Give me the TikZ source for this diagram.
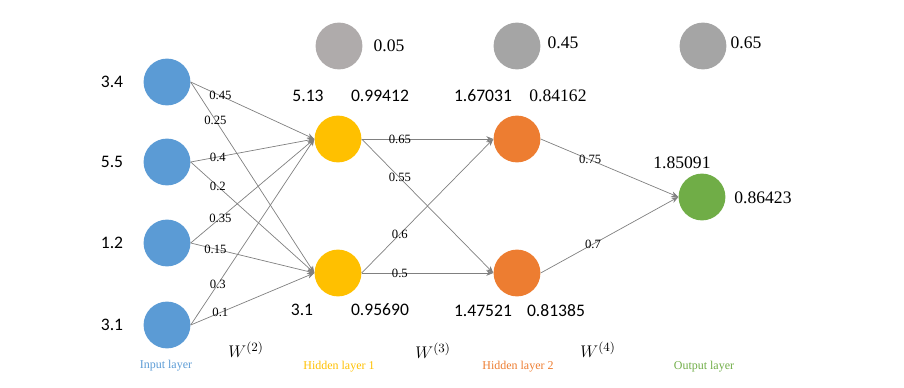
\documentclass[tikz,border=0pt]{standalone}
\usepackage{fontspec}
\setmainfont{Liberation Serif}
\newfontfamily\calib{Carlito}
\usetikzlibrary{arrows.meta}
\definecolor{inblue}{HTML}{5B9BD5}
\definecolor{hidyellow}{HTML}{FFC000}
\definecolor{hidorange}{HTML}{ED7D31}
\definecolor{outgreen}{HTML}{70AD47}
\definecolor{biasgray}{HTML}{A5A5A5}
\definecolor{biasgrayb}{HTML}{AFABAB}
\definecolor{wiregray}{HTML}{808080}
\tikzset{neuron/.style={circle,minimum size=1.17cm,inner sep=0pt},
  wire/.style={draw=wiregray,line width=0.5pt,-{Stealth[length=5pt,width=4pt]}},
  wlab/.style={font=\fontsize{9}{10}\selectfont,inner sep=0pt},
  val/.style={font=\calib\fontsize{12.5}{14}\selectfont},
  sval/.style={font=\fontsize{12.5}{14}\selectfont},
  layer/.style={font=\fontsize{8.5}{10}\selectfont}}

\begin{document}
\begin{tikzpicture}[x=0.025cm, y=-0.025cm]
    \useasboundingbox (0,0) rectangle (904,388);

    % input layer
    \foreach \n/\y/\v in {1/82/3.4, 2/162/5.5, 3/243/1.2, 4/325/3.1} {
        \node [neuron, fill=inblue] (i\n) at (167,\y) {};
        \node [val] (vi\n) at (112,\y) {\v};
    }

    % hidden and output neurons
    \node [neuron, fill=hidyellow] (h1) at (338,139) {};
    \node [neuron, fill=hidyellow] (h2) at (338,273) {};
    \node [neuron, fill=hidorange] (g1) at (517,139) {};
    \node [neuron, fill=hidorange] (g2) at (517,273) {};
    \node [neuron, fill=outgreen] (o) at (702,197) {};

    % bias units
    \node [neuron, fill=biasgrayb] (b1) at (339,46) {};
    \node [neuron, fill=biasgray] (b2) at (517,46) {};
    \node [neuron, fill=biasgray] (b3) at (703,46) {};
    \node [sval] (vb1) at (389,46) {0.05};
    \node [sval] (vb2) at (563,43) {0.45};
    \node [sval] (vb3) at (746,43) {0.65};

    % weights
    \foreach \a/\b/\w/\p in {i1/h1/0.45/0.24, i1/h2/0.25/0.2, i2/h1/0.4/0.22, i2/h2/0.2/0.22,
                             i3/h1/0.35/0.24, i3/h2/0.15/0.2, i4/h1/0.3/0.22, i4/h2/0.1/0.24,
                             h1/g1/0.65/0.29, h1/g2/0.55/0.29, h2/g1/0.6/0.29, h2/g2/0.5/0.29,
                             g1/o/0.75/0.36, g2/o/0.7/0.38}
        \draw [wire] (\a.east) -- node [wlab, pos=\p] {\w} (\b.west);

    % net inputs and activations
    \node [val] (zh1) at (308,96) {5.13};
    \node [val] (ah1) at (380,96) {0.99412};
    \node [val] (zh2) at (302,310) {3.1};
    \node [val] (ah2) at (380,310) {0.95690};
    \node [val] (zg1) at (483,96) {1.67031};
    \node [sval] (ag1) at (558,96) {0.84162};
    \node [val] (zg2) at (483,311) {1.47521};
    \node [val] (ag2) at (556,311) {0.81385};
    \node [sval] (zo) at (682,163) {1.85091};
    \node [sval] (ao) at (763,198) {0.86423};

    % weight matrices
    \node [font=\fontsize{12.5}{14}\selectfont] (w2) at (246,350) {$W^{(2)}$};
    \node [font=\fontsize{12.5}{14}\selectfont] (w3) at (433,351) {$W^{(3)}$};
    \node [font=\fontsize{12.5}{14}\selectfont] (w4) at (598,350) {$W^{(4)}$};

    % layer names
    \node [layer, text=inblue] (li) at (166,366) {Input layer};
    \node [layer, text=hidyellow] (lh1) at (339,367) {Hidden layer 1};
    \node [layer, text=hidorange] (lh2) at (518,367) {Hidden layer 2};
    \node [layer, text=outgreen] (lo) at (704,367) {Output layer};

\end{tikzpicture}
\end{document}
